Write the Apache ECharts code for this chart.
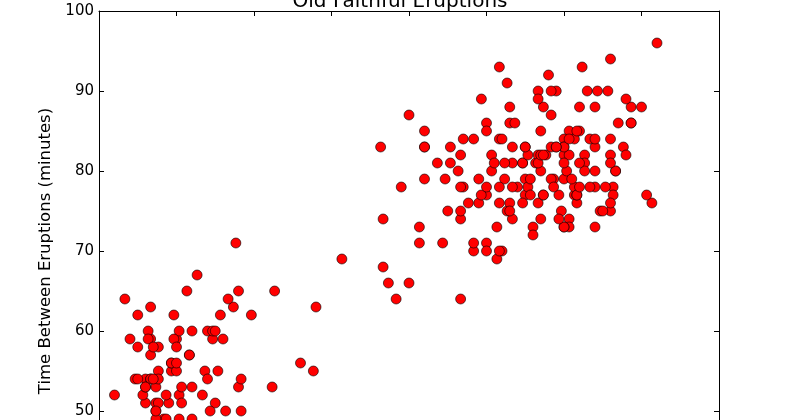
<!DOCTYPE html>
<html>
<head>
<meta charset="utf-8">
<script src="https://cdn.jsdelivr.net/npm/echarts@6/dist/echarts.min.js"></script>
<style>html,body{margin:0;padding:0;background:#fff}#c{width:800px;height:420px}</style>
</head>
<body>
<div id="c"></div>
<script>
const title = "Old Faithful Eruptions";
const yAxisName = "Time Between Eruptions (minutes)";
const eruptions = [3.600,1.800,3.333,2.283,4.533,2.883,4.700,3.600,1.950,4.350,1.833,3.917,4.200,1.750,4.700,2.167,1.750,4.800,1.600,4.250,1.800,1.750,3.450,3.067,4.533,3.600,1.967,4.083,3.850,4.433,4.300,4.467,3.367,4.033,3.833,2.017,1.867,4.833,1.833,4.783,4.350,1.883,4.567,1.750,4.533,3.317,3.833,2.100,4.633,2.000,4.800,4.716,1.833,4.833,1.733,4.883,3.717,1.667,4.567,4.317,2.233,4.500,1.750,4.800,1.817,4.400,4.167,4.700,2.067,4.700,4.033,1.967,4.500,4.000,1.983,5.067,2.017,4.567,3.883,3.600,4.133,4.333,4.100,2.633,4.067,4.933,3.950,4.517,2.167,4.000,2.200,4.333,1.867,4.817,1.833,4.300,4.667,3.750,1.867,4.900,2.483,4.367,2.100,4.500,4.050,1.867,4.700,1.783,4.850,3.683,4.733,2.300,4.900,4.417,1.700,4.633,2.317,4.600,1.817,4.417,2.617,4.067,4.250,1.967,4.600,3.767,1.917,4.500,2.267,4.650,1.867,4.167,2.800,4.333,1.833,4.383,1.883,4.933,2.033,3.733,4.233,2.233,4.533,4.817,4.333,1.983,4.633,2.017,5.100,1.800,5.033,4.000,2.400,4.600,3.567,4.000,4.500,4.083,1.800,3.967,2.200,4.150,2.000,3.833,3.500,4.583,2.367,5.000,1.933,4.617,1.917,2.083,4.583,3.333,4.167,4.333,4.500,2.417,4.000,4.167,1.883,4.583,4.250,3.767,2.033,4.433,4.083,1.833,4.417,2.183,4.800,1.833,4.800,4.100,3.966,4.233,3.500,4.366,2.250,4.667,2.100,4.350,4.133,1.867,4.600,1.783,4.367,3.850,1.933,4.500,2.383,4.700,1.867,3.833,3.417,4.233,2.400,4.800,2.000,4.150,1.867,4.267,1.750,4.483,4.000,4.117,4.083,4.267,3.917,4.550,4.083,2.417,4.183,2.217,4.450,1.883,1.850,4.283,3.950,2.333,4.150,2.350,4.933,2.900,4.583,3.833,2.083,4.367,2.133,4.350,2.200,4.450,3.567,4.500,4.150,3.817,3.917,4.450,2.000,4.283,4.767,4.533,1.850,4.250,1.983,2.250,4.750,4.117,2.150,4.417,1.817,4.467];
const waiting = [79,54,74,62,85,55,88,85,51,85,54,84,78,47,83,52,62,84,52,79,51,47,78,69,74,83,55,76,78,79,73,77,66,80,74,52,48,80,59,90,80,58,84,58,73,83,64,53,82,59,75,90,54,80,54,83,71,64,77,81,59,84,48,82,60,92,78,78,65,73,82,56,79,71,62,76,60,78,76,83,75,82,70,65,73,88,76,80,48,86,60,90,50,78,63,72,84,75,51,82,62,88,49,83,81,47,84,52,86,81,75,59,89,79,59,81,50,85,59,87,53,69,77,56,88,81,45,82,55,90,45,83,56,89,46,82,51,86,53,79,81,60,82,77,76,59,80,49,96,53,77,77,65,81,71,70,81,93,53,89,45,86,58,78,66,76,63,88,52,93,49,57,77,68,81,81,73,50,85,74,55,77,83,83,51,78,84,46,83,55,81,57,76,84,77,81,87,77,51,78,60,82,91,53,78,46,77,84,49,83,71,80,49,75,64,76,53,94,55,76,50,82,54,75,78,79,78,78,70,79,70,54,86,50,90,54,54,77,79,64,75,47,86,63,85,82,57,82,67,74,54,83,73,73,88,80,71,83,56,79,78,84,58,83,43,60,75,81,46,90,46,74];
const xTicks = {min: 1.5, max: 5.5, interval: 0.5};
const yTicks = {min: 40, max: 100, interval: 10};

const points = eruptions.map((e, i) => [e, waiting[i]]);
const chart = echarts.init(document.getElementById('c'), null, {renderer: 'canvas'});
const font = "'DejaVu Sans', sans-serif";
const frameLine = {show: true, onZero: false, lineStyle: {color: '#000', width: 1}};
const inTick = {show: true, inside: true, length: 5, lineStyle: {color: '#000', width: 1}};
chart.setOption({
  animation: false,
  backgroundColor: '#fff',
  title: {
    text: title, left: 'center', top: -13,
    textStyle: {fontFamily: font, fontSize: 20, fontWeight: 'normal', color: '#000'}
  },
  grid: {left: 99, top: 11, width: 620, height: 480, containLabel: false, outerBoundsMode: 'none'},
  xAxis: [
    {type: 'value', position: 'bottom', min: xTicks.min, max: xTicks.max, interval: xTicks.interval,
     axisLine: frameLine, axisTick: inTick, splitLine: {show: false},
     axisLabel: {fontFamily: font, fontSize: 15, color: '#000'}},
    {type: 'value', position: 'top', min: xTicks.min, max: xTicks.max, interval: xTicks.interval,
     axisLine: frameLine, axisTick: inTick, splitLine: {show: false}, axisLabel: {show: false}}
  ],
  yAxis: [
    {type: 'value', position: 'left', min: yTicks.min, max: yTicks.max, interval: yTicks.interval,
     name: yAxisName, nameLocation: 'middle', nameGap: 39,
     nameTextStyle: {fontFamily: font, fontSize: 16.5, color: '#000'},
     axisLine: frameLine, axisTick: inTick, splitLine: {show: false},
     axisLabel: {fontFamily: font, fontSize: 15, color: '#000', margin: 5}},
    {type: 'value', position: 'right', min: yTicks.min, max: yTicks.max, interval: yTicks.interval,
     axisLine: frameLine, axisTick: inTick, splitLine: {show: false}, axisLabel: {show: false}}
  ],
  series: [{
    type: 'scatter', xAxisIndex: 0, yAxisIndex: 0,
    data: points, symbol: 'circle', symbolSize: 10,
    itemStyle: {color: '#ff0000', borderColor: '#000', borderWidth: 0.6, opacity: 1},
    emphasis: {disabled: true}
  }]
});
</script>
</body>
</html>
